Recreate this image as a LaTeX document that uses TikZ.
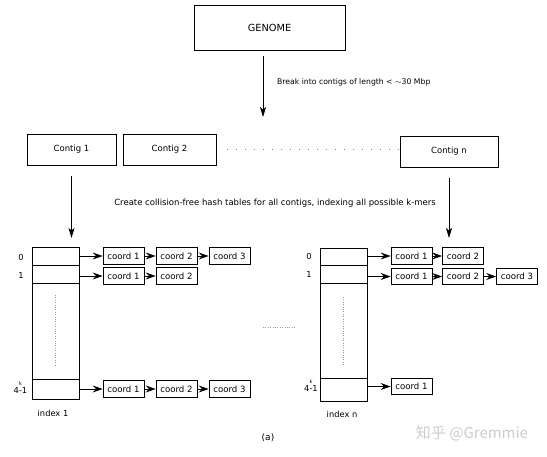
\documentclass[tikz,border=0pt]{standalone}
\usepackage{fontspec}
\setmainfont{DejaVu Sans}
\newfontfamily\cjk{Noto Sans CJK SC}
\usetikzlibrary{arrows.meta}
\tikzset{
  box/.style={draw, line width=0.8pt, inner sep=0pt, font=\fontsize{8.5}{10}\selectfont},
  cell/.style={draw, line width=0.8pt, inner sep=0pt, outer sep=0pt, minimum width=47pt},
  crd/.style={draw, line width=0.8pt, inner sep=0pt, minimum width=41pt, minimum height=16.5pt, font=\fontsize{8.6}{9}\selectfont},
  arr/.style={line width=0.8pt, -{Stealth[length=10pt,width=6pt,inset=2.5pt]}},
  harr/.style={line width=0.7pt, -{Stealth[length=10pt,width=7pt,inset=3.5pt]}},
  lbl/.style={font=\fontsize{7.7}{9}\selectfont, inner sep=0pt},
  idx/.style={font=\fontsize{8.3}{9}\selectfont, inner sep=0pt},
  dots/.style={gray!80, line width=0.6pt, dash pattern=on 0.8pt off 1.6pt},
}
\begin{document}
\begin{tikzpicture}[x=1pt,y=-1pt]
\useasboundingbox[fill=white] (0,0) rectangle (547,456);

% top
\node[box, minimum width=151pt, minimum height=45pt, font=\fontsize{9.8}{11}\selectfont] (genome) at (269.5,27.5) {GENOME};
\coordinate (brk) at (263,117);
\draw[arr, shorten <=6pt] (genome.south -| brk) -- (brk);
\node[lbl, anchor=west] (brklbl) at (277,82) {Break into contigs of length < $\sim$30 Mbp};

% contigs
\node[box, minimum width=89pt, minimum height=31pt] (c1) at (71.5,149.5) {Contig 1};
\node[box, minimum width=93pt, minimum height=31pt] (c2) at (169.5,149.5) {Contig 2};
\node[box, minimum width=98pt, minimum height=31pt] (cn) at (449,151.5) {Contig n};
\draw[gray, line width=0.7pt, dash pattern=on 0.8pt off 8.2pt] (c2.east) ++(11,0) coordinate (dl) -- (cn.west |- c2.east);

\node[lbl, font=\fontsize{8.5}{10}\selectfont] (hashlbl) at (275,203) {Create collision-free hash tables for all contigs, indexing all possible k-mers};

% left index
\node[cell, minimum height=18pt, anchor=north west] (l0) at (32,247) {};
\node[cell, minimum height=18pt, anchor=north] (l1) at (l0.south) {};
\node[cell, minimum height=96pt, anchor=north] (lm) at (l1.south) {};
\node[cell, minimum height=20pt, anchor=north] (lk) at (lm.south) {};
\draw[dots] ([yshift=-12pt]lm.north) -- ([yshift=14pt]lm.south);
\draw[arr, shorten <=11pt, shorten >=9pt] (c1.south) -- (c1.south |- l0.north);

\node[idx] (l0t) at (21,257) {0};
\node[idx] (l1t) at (21,275) {1};
\node[idx] (lkt) at (20.5,388) {\shortstack{\fontsize{5}{5}\selectfont k\\[-1pt]4-1}};
\node[idx] (lidx) at (53,413) {index 1};

\node[crd] (a01) at (123.5,256) {coord 1};
\node[crd] (a02) at (176.5,256) {coord 2};
\node[crd] (a03) at (229.5,256) {coord 3};
\node[crd] (a11) at (123.5,276) {coord 1};
\node[crd] (a12) at (176.5,276) {coord 2};
\node[crd] (ak1) at (123.5,389) {coord 1};
\node[crd] (ak2) at (176.5,389) {coord 2};
\node[crd] (ak3) at (229.5,389) {coord 3};
\draw[harr] (l0.east |- a01) -- (a01.west);
\draw[harr] (a01) -- (a02);
\draw[harr] (a02) -- (a03);
\draw[harr] (l1.east |- a11) -- (a11.west);
\draw[harr] (a11) -- (a12);
\draw[harr] (lk.east |- ak1) -- (ak1.west);
\draw[harr] (ak1) -- (ak2);
\draw[harr] (ak2) -- (ak3);

% middle dots
\coordinate (md1) at (263,327);
\coordinate (md2) at (295,327);
\draw[dots] (md1) -- (md2);

% right index
\node[cell, minimum height=17pt, anchor=north west] (r0) at (320,248) {};
\node[cell, minimum height=18pt, anchor=north] (r1) at (r0.south) {};
\node[cell, minimum height=95pt, anchor=north] (rm) at (r1.south) {};
\node[cell, minimum height=23pt, anchor=north] (rk) at (rm.south) {};
\draw[dots] ([yshift=-14pt]rm.north) -- ([yshift=13pt]rm.south);
\draw[arr, shorten <=11pt, shorten >=10pt] (cn.south) -- (cn.south |- r0.north);

\node[idx] (r0t) at (309,256) {0};
\node[idx] (r1t) at (309,274) {1};
\node[idx] (rkt) at (311,386) {\shortstack{\fontsize{5}{5}\selectfont k\\[-1pt]4-1}};
\node[idx] (ridx) at (342,414) {index n};

\node[crd] (b01) at (411.5,256) {coord 1};
\node[crd] (b02) at (463,256) {coord 2};
\node[crd] (b11) at (411.5,276.5) {coord 1};
\node[crd] (b12) at (463,276.5) {coord 2};
\node[crd] (b13) at (517,276.5) {coord 3};
\node[crd] (bk1) at (411.5,386.5) {coord 1};
\draw[harr] (r0.east |- b01) -- (b01.west);
\draw[harr] (b01) -- (b02);
\draw[harr] (r1.east |- b11) -- (b11.west);
\draw[harr] (b11) -- (b12);
\draw[harr] (b12) -- (b13);
\draw[harr] (rk.east |- bk1) -- (bk1.west);

\node[font=\fontsize{9}{10}\selectfont] (cap) at (268,438) {(a)};
\node[font=\cjk\fontsize{15}{16}\selectfont, text=gray!40] (wm) at (472,433) {知乎 @Gremmie};
\end{tikzpicture}
\end{document}
